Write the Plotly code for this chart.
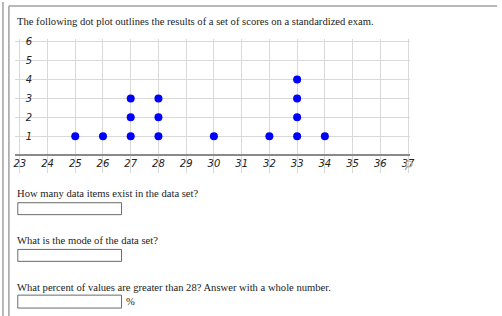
import plotly.graph_objects as go

# Exam scores and how many students got each one
scores = [25, 26, 27, 28, 30, 32, 33, 34]
counts = [1, 1, 3, 3, 1, 1, 4, 1]

x_ticks = list(range(23, 38))
y_ticks = [1, 2, 3, 4, 5, 6]

intro = "The following dot plot outlines the results of a set of scores on a standardized exam."
questions = [
    "How many data items exist in the data set?",
    "What is the mode of the data set?",
    "What percent of values are greater than 28? Answer with a whole number.",
]

W, H = 502, 316


def px(x):
    return x / W


def py(y):
    return 1 - y / H


# stack one dot per occurrence
dot_x, dot_y = [], []
for s, c in zip(scores, counts):
    for k in range(1, c + 1):
        dot_x.append(s)
        dot_y.append(k)

fig = go.Figure(
    go.Scatter(
        x=dot_x, y=dot_y, mode="markers",
        marker=dict(color="#0000ff", size=8, line=dict(width=0)),
        hoverinfo="skip", showlegend=False,
    )
)

tick_font = dict(family="DejaVu Sans", size=10, color="#222", style="italic")
grid = "#d9d9d9"
unit_x = 28.07
unit_y = 19.0
plot_bottom = 172

fig.update_xaxes(
    domain=[px(14), px(414)],
    range=[23 - 5 / unit_x, 23 + 395 / unit_x],
    tickmode="array", tickvals=x_ticks, ticktext=[str(v) for v in x_ticks],
    showgrid=True, gridcolor=grid, gridwidth=1,
    zeroline=False, showline=False, ticks="",
    ticklabelposition="inside", ticklabeloverflow="allow",
    ticklabelstandoff=1,
    tickfont=tick_font, fixedrange=True,
)
fig.update_yaxes(
    domain=[py(plot_bottom), py(37)],
    range=[-(plot_bottom - 154) / unit_y, 6 + 3 / unit_y],
    tickmode="array", tickvals=y_ticks, ticktext=[str(v) for v in y_ticks],
    showgrid=True, gridcolor=grid, gridwidth=1,
    zeroline=True, zerolinecolor="#8a8a8a", zerolinewidth=1.5,
    showline=False, ticks="",
    ticklabelposition="inside", ticklabeloverflow="allow",
    ticklabelstandoff=8,
    tickfont=tick_font, fixedrange=True,
)

text_font = dict(family="Liberation Serif", size=10.6, color="#222")
annotations = [
    dict(x=px(14), y=py(20), xref="paper", yref="paper", text=intro,
         showarrow=False, xanchor="left", yanchor="middle", font=text_font),
]
q_y = [193, 240, 287]
box_y = [(202, 214), (249, 261), (295, 308)]
for q, yy in zip(questions, q_y):
    annotations.append(dict(x=px(14), y=py(yy), xref="paper", yref="paper", text=q,
                            showarrow=False, xanchor="left", yanchor="middle", font=text_font))
annotations.append(dict(x=px(124), y=py(301), xref="paper", yref="paper", text="%",
                        showarrow=False, xanchor="left", yanchor="middle", font=text_font))

shapes = [
    # page frame
    dict(type="line", xref="paper", yref="paper", x0=px(2), x1=px(2), y0=0, y1=1,
         line=dict(color="#a0a0a0", width=1.5)),
    dict(type="line", xref="paper", yref="paper", x0=px(8), x1=px(8), y0=0, y1=py(4),
         line=dict(color="#a0a0a0", width=1.5)),
    dict(type="line", xref="paper", yref="paper", x0=px(8), x1=1, y0=py(4), y1=py(4),
         line=dict(color="#a0a0a0", width=1.5)),
    # zoom glyph in the plot corner
    dict(type="circle", xref="paper", yref="paper", x0=px(410), x1=px(416), y0=py(166), y1=py(160),
         line=dict(color="#b0b0b0", width=1.2)),
    dict(type="line", xref="paper", yref="paper", x0=px(409), x1=px(411), y0=py(169), y1=py(166),
         line=dict(color="#b0b0b0", width=1.5)),
]
# answer boxes
for y0, y1 in box_y:
    shapes.append(dict(type="rect", xref="paper", yref="paper", x0=px(17), x1=px(122),
                       y0=py(y1), y1=py(y0), line=dict(color="#6a6a6a", width=1),
                       fillcolor="white"))

fig.update_layout(
    width=W, height=H,
    margin=dict(l=0, r=0, t=0, b=0),
    paper_bgcolor="white", plot_bgcolor="white",
    annotations=annotations, shapes=shapes,
    showlegend=False,
)

fig.write_html("out.html", config={"displayModeBar": False})
